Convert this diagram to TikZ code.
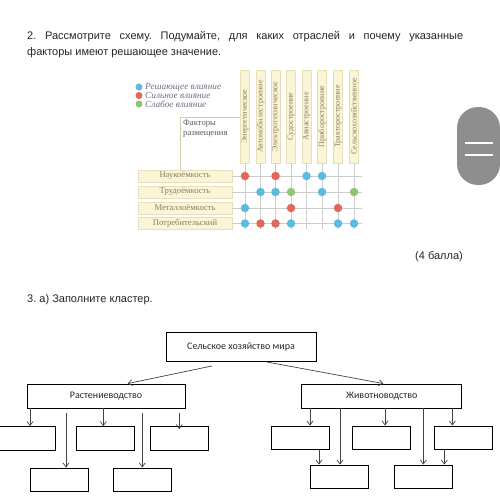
\documentclass[tikz,border=0pt]{standalone}
\usepackage{fontspec}
\setmainfont{Liberation Sans}
\newfontfamily\serifru{Liberation Serif}
\newfontfamily\calib{Carlito}
\usetikzlibrary{arrows.meta}
\definecolor{cellfill}{HTML}{FBF5D8}
\definecolor{celldraw}{HTML}{E8DFB8}
\definecolor{celltext}{HTML}{8A7C62}
\definecolor{gridc}{HTML}{CDCDCD}
\definecolor{dblue}{HTML}{5DB9E2}
\definecolor{dred}{HTML}{E0675A}
\definecolor{dgreen}{HTML}{8DC774}
\definecolor{legtext}{HTML}{6E6E86}
\definecolor{pill}{HTML}{8E8E8E}
\definecolor{linec}{HTML}{444444}
\frenchspacing
\begin{document}
\begin{tikzpicture}[x=1pt,y=-1pt,
  qtext/.style={font=\fontsize{11}{14}\selectfont, text=black!85, inner sep=0},
  colbox/.style={draw=celldraw, fill=cellfill, line width=0.5pt, minimum width=9pt, minimum height=93pt, inner sep=0, font=\serifru\fontsize{8}{8}\selectfont, text=celltext},
  rowbox/.style={draw=celldraw, fill=cellfill, line width=0.5pt, minimum width=94pt, minimum height=12pt, inner sep=0, font=\serifru\fontsize{8.6}{9}\selectfont, text=celltext},
  dot/.style={circle, minimum size=8.5pt, inner sep=0},
  gridline/.style={draw=gridc, line width=0.6pt},
  legdot/.style={circle, minimum size=7pt, inner sep=0},
  legtxt/.style={anchor=west, inner sep=0, font=\serifru\itshape\fontsize{9.3}{10}\selectfont, text=legtext},
  cbox/.style={draw=black, line width=0.9pt, inner sep=0, font=\calib\fontsize{10}{12}\selectfont, text=black!85},
  leaf/.style={cbox, minimum width=58pt, minimum height=23.5pt},
  arr/.style={draw=linec, line width=0.7pt, -{Straight Barb[length=4pt,width=6pt]}}
]
\useasboundingbox (0,0) rectangle (500,498);
\fill[white] (0,0) rectangle (500,498);

% question 2
\node[qtext, anchor=base west] (q2a) at (27,39) {\makebox[436pt][s]{2. Рассмотрите схему. Подумайте, для каких отраслей и почему указанные}};
\node[qtext, anchor=base west] (q2b) at (27,55) {факторы имеют решающее значение.};

% legend
\node[legdot, fill=dblue] (l1) at (139,87) {};
\node[legdot, fill=dred] (l2) at (139,95.5) {};
\node[legdot, fill=dgreen] (l3) at (139,104) {};
\node[legtxt] (lt1) at (145,87) {Решающее влияние};
\node[legtxt] (lt2) at (145,95.5) {Сильное влияние};
\node[legtxt] (lt3) at (145,104) {Слабое влияние};

% header columns
\foreach \i/\x/\t in {1/245/Энергетическое,2/260.5/Автомобилестроение,3/275.5/Электротехническое,4/291/Судостроение,5/306.5/Авиастроение,6/322/Приборостроение,7/338/Тракторостроение,8/354/Сельскохозяйственное}
  \node[colbox] (c\i) at (\x,116.5) {\rotatebox{90}{\t}};

% factors box
\coordinate (fk) at (180,117);
\draw[draw=celldraw!80!gray, line width=0.6pt] (c1.west |- fk) -- (fk) -- (180,170);
\node[anchor=north west, inner sep=0, align=left, font=\serifru\fontsize{8.6}{10}\selectfont, text=black!65] (fact) at (183,120) {Факторы\\размещения};

% rows
\foreach \j/\y/\t in {1/176/Наукоёмкость,2/192/Трудоёмкость,3/208/Металлоёмкость,4/223.5/Потребительский}
  \node[rowbox] (r\j) at (185,\y) {\t};

% grid
\coordinate (gend) at (362,0);
\coordinate (gbot) at (0,229);
\foreach \j in {1,...,4}
  \draw[gridline] (r\j.east) -- (r\j.east -| gend);
\foreach \i in {1,...,8}
  \draw[gridline] (c\i.south) -- (c\i.south |- gbot);

% dots
\foreach \j/\i/\col in {1/1/dred,1/3/dred,1/5/dblue,1/6/dblue,
                        2/2/dblue,2/3/dblue,2/4/dgreen,2/6/dblue,2/8/dgreen,
                        3/1/dblue,3/4/dred,3/7/dred,
                        4/1/dblue,4/2/dred,4/3/dred,4/4/dblue,4/7/dblue,4/8/dblue}
  \node[dot, fill=\col] (d\j\i) at (c\i |- r\j) {};

% pill button
\fill[pill, rounded corners=21pt] (457,107) rectangle (500,185);
\draw[white, line width=2.4pt] (465,143) -- (493,143);
\draw[white, line width=2.4pt] (465,155) -- (493,155);

% points / question 3
\node[qtext, anchor=base east] (pts) at (463,259) {(4 балла)};
\node[qtext, anchor=base west] (q3) at (27,302) {3. а) Заполните кластер.};

% cluster
\node[cbox, minimum width=150pt, minimum height=29pt] (top) at (241,347) {Сельское хозяйство мира};
\node[cbox, minimum width=158pt, minimum height=24pt] (rast) at (106,396) {Растениеводство};
\node[cbox, minimum width=160pt, minimum height=24pt] (zhiv) at (381.7,396) {Животноводство};

\node[leaf] (A) at (26,438.3) {};
\node[leaf] (B) at (105,438.3) {};
\node[leaf] (C) at (179.3,438.3) {};
\node[leaf] (D) at (59,479.7) {};
\node[leaf] (E) at (142.7,479.7) {};

\node[leaf] (F) at (300,437.7) {};
\node[leaf] (G) at (381.3,437.7) {};
\node[leaf] (H) at (463,437.7) {};
\node[leaf] (I) at (339.2,476.7) {};
\node[leaf] (J) at (423.2,476.7) {};

% diagonal arrows
\draw[arr] ([xshift=-29pt,yshift=-4pt]top.south) -- ([xshift=21.7pt]rast.north);
\draw[arr] ([xshift=25.7pt]top.south) -- ([xshift=1.6pt]zhiv.north);

% left arrows
\draw[arr] ([xshift=4pt]A.north |- rast.south) -- ([xshift=4pt]A.north);
\draw[arr] ([xshift=-1.7pt]B.north |- rast.south) -- ([xshift=-1.7pt]B.north);
\draw[arr] ([yshift=-4.4pt]C.north |- rast.south) -- ([yshift=-3pt]C.north);
\draw[arr] ([xshift=7pt,yshift=-4.4pt]D.north |- rast.south) -- ([xshift=7pt]D.north);
\draw[arr] ([xshift=-0.4pt,yshift=-4.4pt]E.north |- rast.south) -- ([xshift=-0.4pt]E.north);

% right arrows
\draw[arr] ([xshift=10pt]F.north |- zhiv.south) -- ([xshift=10pt]F.north);
\draw[arr] ([xshift=3.7pt]G.north |- zhiv.south) -- ([xshift=3.7pt]G.north);
\draw[arr] ([xshift=-10.7pt]H.north |- zhiv.south) -- ([xshift=-10.7pt]H.north);
\draw[arr] ([xshift=0.8pt]I.north |- zhiv.south) -- ([xshift=0.8pt]I.north);
\draw[arr] ([xshift=0.1pt]J.north |- zhiv.south) -- ([xshift=0.1pt]J.north);
\draw[arr] ([xshift=-20.2pt]I.north |- F.south) -- ([xshift=-20.2pt]I.north);
\draw[arr] ([xshift=21.1pt]J.north |- H.south) -- ([xshift=21.1pt]J.north);
\end{tikzpicture}
\end{document}
